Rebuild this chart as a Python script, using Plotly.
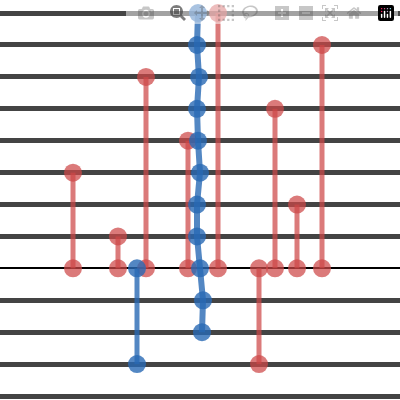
import plotly.graph_objects as go

# red lollipops: position and value
red_x = [73, 118, 146, 188, 218, 259, 275, 297, 322]
red_y = [3, 1, 6, 4, 8, -3, 5, 2, 7]

# blue lollipop
blue_stem_x = [137]
blue_stem_y = [-3]

# blue walk column
walk_x = [198, 197, 199, 197, 198, 200, 197, 197, 200, 203, 202]
walk_y = [8, 7, 6, 5, 4, 3, 2, 1, 0, -1, -2]

red = "rgba(205,70,70,0.72)"
blue = "rgba(40,105,180,0.8)"

def stems(xs, ys):
    sx, sy = [], []
    for x, y in zip(xs, ys):
        sx += [x, x, None]
        sy += [0, y, None]
    return sx, sy

fig = go.Figure()
sx, sy = stems(red_x, red_y)
fig.add_trace(go.Scatter(x=sx, y=sy, mode="lines", line=dict(color=red, width=5)))
fig.add_trace(go.Scatter(x=red_x + red_x, y=red_y + [0] * len(red_x), mode="markers",
                         marker=dict(color=red, size=18)))
sx, sy = stems(blue_stem_x, blue_stem_y)
fig.add_trace(go.Scatter(x=sx, y=sy, mode="lines", line=dict(color=blue, width=5)))
fig.add_trace(go.Scatter(x=blue_stem_x * 2, y=blue_stem_y + [0], mode="markers",
                         marker=dict(color=blue, size=18)))
fig.add_trace(go.Scatter(x=walk_x, y=walk_y, mode="lines+markers",
                         line=dict(color=blue, width=6), marker=dict(color=blue, size=18)))

fig.update_layout(
    width=400, height=400, margin=dict(l=0, r=0, t=0, b=0),
    paper_bgcolor="white", plot_bgcolor="white", showlegend=False,
    xaxis=dict(range=[0, 400], visible=False),
    yaxis=dict(range=[-4.125, 8.41], dtick=1, showgrid=True, gridcolor="#444",
               gridwidth=5, zeroline=True, zerolinecolor="black", zerolinewidth=2,
               showticklabels=False),
)
# drop the page margin so the 400x400 figure fills the window
post = ("document.body.style.margin='0';document.body.style.overflow='hidden';"
        "Plotly.relayout(document.getElementById('{plot_id}'),{width:400,height:400});")
fig.write_html("out.html", post_script=post)
